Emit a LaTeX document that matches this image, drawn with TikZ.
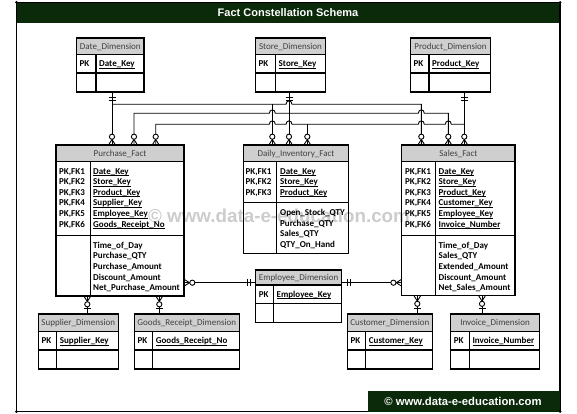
\documentclass[tikz,border=0pt]{standalone}
\usepackage{fontspec}
\newfontfamily\carl{Carlito}
\newfontfamily\arl{Liberation Sans}
\definecolor{dkgreen}{HTML}{0A2A0A}
\definecolor{hdr}{HTML}{CFCFCF}
\newcommand\ul[1]{\setbox0=\hbox{#1}\rlap{\rule[-1.7pt]{\wd0}{0.6pt}}\box0}
\newcommand\tbox[9]{%
  \fill[hdr] (#2,#3) rectangle (#4,#6);
  \draw[boxl] (#2,#6) -- (#4,#6) (#2,#7) -- (#4,#7) (#8,#6) -- (#8,#5);
  \node[boxnode, minimum width={#4-#2}, minimum height={#5-#3}] (#1) at ({(#2+#4)/2},{(#3+#5)/2}) {};
  \node[hdrtext] (#1t) at ({(#2+#4)/2},{(#3+#6)/2+3}) {#9};}
\newcommand\rowsat[5]{%
  \foreach \t [count=\i] in {#5} {\node[rowtxt] (#1\i) at (#2,{#3+(\i-1)*#4}) {\t};}}
\newcommand\zm[4]{%
  \draw[conn] ({#1+3.5*(#4)},{#2+3.5*(#3)}) -- ({#1+5.5*(#3)},{#2+5.5*(#4)}) -- ({#1-3.5*(#4)},{#2-3.5*(#3)});
  \draw[conn, fill=white] ({#1+8.3*(#3)},{#2+8.3*(#4)}) circle[radius=2.6pt];}
\newcommand\hmark[2]{\draw[conn] (#1-3.5,#2) -- (#1+3.5,#2);}
\newcommand\vmark[2]{\draw[conn] (#1,#2-3.5) -- (#1,#2+3.5);}
\begin{document}
\begin{tikzpicture}[x=1pt,y=-1pt,
  conn/.style={line width=0.9pt},
  boxl/.style={line width=1.1pt},
  boxnode/.style={draw, line width=1.1pt, inner sep=0pt, outer sep=0pt},
  rowtxt/.style={anchor=base west, inner sep=0pt, font=\carl\bfseries\fontsize{9}{10}\selectfont},
  hdrtext/.style={anchor=base, inner sep=0pt, text=black!75, font=\carl\fontsize{9}{10}\selectfont}]
\useasboundingbox (0,0) rectangle (577,414);
% frame, title, footer
\fill[dkgreen] (16.5,2.5) rectangle (560,23);
\draw[line width=1.2pt] (16.5,2.5) rectangle (560,411.5);
\node[text=white, font=\arl\bfseries\fontsize{11}{13}\selectfont] (title) at (288,12.5) {Fact Constellation Schema};
\fill[dkgreen] (368,391) rectangle (560,411.5);
\node[text=white, font=\arl\bfseries\fontsize{11.3}{13}\selectfont] (footer) at (463,401) {© www.data-e-education.com};
\foreach \p in {(16.5,2.5),(560,2.5),(16.5,411.5),(560,411.5)} \fill \p circle[radius=1.5pt];
% top connectors
\draw[conn] (112,92) -- (112,145);
\draw[conn] (289,92) -- (289,145);
\draw[conn] (464.3,92) -- (464.3,145);
\draw[conn] (112,104.3) -- (286,104.3) .. controls (286,99.8) and (292,99.8) .. (292,104.3) -- (421.3,104.3) -- (421.3,145);
\draw[conn] (272.3,104.3) -- (272.3,145);
\draw[conn] (134,145) -- (134,113.3) -- (269.3,113.3) .. controls (269.3,108.8) and (275.3,108.8) .. (275.3,113.3)
  -- (418.3,113.3) .. controls (418.3,108.8) and (424.3,108.8) .. (424.3,113.3) -- (448.3,113.3) -- (448.3,145);
\draw[conn] (155.7,145) -- (155.7,124.3) -- (269.3,124.3) .. controls (269.3,119.8) and (275.3,119.8) .. (275.3,124.3)
  -- (286,124.3) .. controls (286,119.8) and (292,119.8) .. (292,124.3)
  -- (418.3,124.3) .. controls (418.3,119.8) and (424.3,119.8) .. (424.3,124.3)
  -- (445.3,124.3) .. controls (445.3,119.8) and (451.3,119.8) .. (451.3,124.3) -- (464.3,124.3);
\draw[conn] (307.3,124.3) -- (307.3,145);
\foreach \x in {112,289,464.3} {\hmark{\x}{97.3}\hmark{\x}{100.7}}
\foreach \x in {112,134,155.7,272.3,289,307.3,421.3,448.3,464.3} {\zm{\x}{145}{0}{-1}}
% bottom connectors
\foreach \x/\yt in {87.3/296,159.3/296,417.3/295.5,482/295.5} {
  \draw[conn] (\x,\yt) -- (\x,314);
  \zm{\x}{\yt}{0}{1}
  \hmark{\x}{308.5}}
% employee connectors
\draw[conn] (184,282.7) -- (255.7,282.7);
\zm{184}{282.7}{1}{0}
\vmark{247}{282.7}\vmark{250}{282.7}
\draw[conn] (341.7,282.7) -- (401.7,282.7);
\zm{401.7}{282.7}{-1}{0}
\vmark{347.7}{282.7}\vmark{350.7}{282.7}
% boxes
\tbox{date}{76.5}{38}{144}{92}{54.5}{73}{96}{Date\_Dimension}
\tbox{store}{255.5}{38}{325.5}{92}{54.5}{73}{275.5}{Store\_Dimension}
\tbox{product}{410.5}{38}{490.5}{92}{54.5}{73}{429}{Product\_Dimension}
\tbox{purchase}{56}{145}{184}{296}{161.7}{235.7}{90.7}{Purchase\_Fact}
\tbox{daily}{243.5}{145}{348.5}{253.3}{161.7}{202.3}{276.7}{Daily\_Inventory\_Fact}
\tbox{sales}{401.7}{145}{515}{295.5}{161.7}{235.5}{435.7}{Sales\_Fact}
\tbox{employee}{255.7}{270}{341.7}{322.3}{285}{303.5}{273.3}{Employee\_Dimension}
\tbox{supplier}{38.3}{314}{118.3}{369}{331.5}{350}{56.7}{Supplier\_Dimension}
\tbox{goods}{134.3}{314}{239.3}{369}{331.5}{350}{152.7}{Goods\_Receipt\_Dimension}
\tbox{customer}{347.3}{314}{432.3}{369}{331.5}{350}{365.7}{Customer\_Dimension}
\tbox{invoice}{450.7}{314}{539.3}{369}{331.5}{350}{469.3}{Invoice\_Dimension}
% dimension rows
\node[rowtxt] (datepk) at (79.5,66.7) {PK};
\node[rowtxt] (datek) at (99,66.7) {\ul{Date\_Key}};
\node[rowtxt] (storepk) at (258.5,66.7) {PK};
\node[rowtxt] (storek) at (278.5,66.7) {\ul{Store\_Key}};
\node[rowtxt] (productpk) at (413.5,66.7) {PK};
\node[rowtxt] (productk) at (432,66.7) {\ul{Product\_Key}};
\node[rowtxt] (employeepk) at (258.7,297.2) {PK};
\node[rowtxt] (employeek) at (276.5,297.2) {\ul{Employee\_Key}};
\node[rowtxt] (supplierpk) at (41.3,343.7) {PK};
\node[rowtxt] (supplierk) at (59.7,343.7) {\ul{Supplier\_Key}};
\node[rowtxt] (goodspk) at (137.3,343.7) {PK};
\node[rowtxt] (goodsk) at (155.7,343.7) {\ul{Goods\_Receipt\_No}};
\node[rowtxt] (customerpk) at (350.3,343.7) {PK};
\node[rowtxt] (customerk) at (368.7,343.7) {\ul{Customer\_Key}};
\node[rowtxt] (invoicepk) at (453.7,343.7) {PK};
\node[rowtxt] (invoicek) at (472.3,343.7) {\ul{Invoice\_Number}};
% fact rows
\rowsat{pfpk}{59}{174}{10.6}{{PK,FK1},{PK,FK2},{PK,FK3},{PK,FK4},{PK,FK5},{PK,FK6}}
\rowsat{pfk}{93}{174}{10.6}{\ul{Date\_Key},\ul{Store\_Key},\ul{Product\_Key},\ul{Supplier\_Key},\ul{Employee\_Key},\ul{Goods\_Receipt\_No}}
\rowsat{pfa}{93}{248.3}{10.6}{Time\_of\_Day,Purchase\_QTY,Purchase\_Amount,Discount\_Amount,Net\_Purchase\_Amount}
\rowsat{difpk}{245.5}{174}{10.6}{{PK,FK1},{PK,FK2},{PK,FK3}}
\rowsat{difk}{280}{174}{10.6}{\ul{Date\_Key},\ul{Store\_Key},\ul{Product\_Key}}
\rowsat{difa}{280}{215.7}{10.6}{Open\_Stock\_QTY,Purchase\_QTY,Sales\_QTY,QTY\_On\_Hand}
\rowsat{sfpk}{405}{174}{10.6}{{PK,FK1},{PK,FK2},{PK,FK3},{PK,FK4},{PK,FK5},{PK,FK6}}
\rowsat{sfk}{438.5}{174}{10.6}{\ul{Date\_Key},\ul{Store\_Key},\ul{Product\_Key},\ul{Customer\_Key},\ul{Employee\_Key},\ul{Invoice\_Number}}
\rowsat{sfa}{438.5}{248.3}{10.6}{Time\_of\_Day,Sales\_QTY,Extended\_Amount,Discount\_Amount,Net\_Sales\_Amount}
% watermark
\node[text=black, text opacity=0.2, font=\arl\bfseries\fontsize{18.8}{20}\selectfont] (wm) at (279,216) {© www.data-e-education.com};
\end{tikzpicture}
\end{document}
